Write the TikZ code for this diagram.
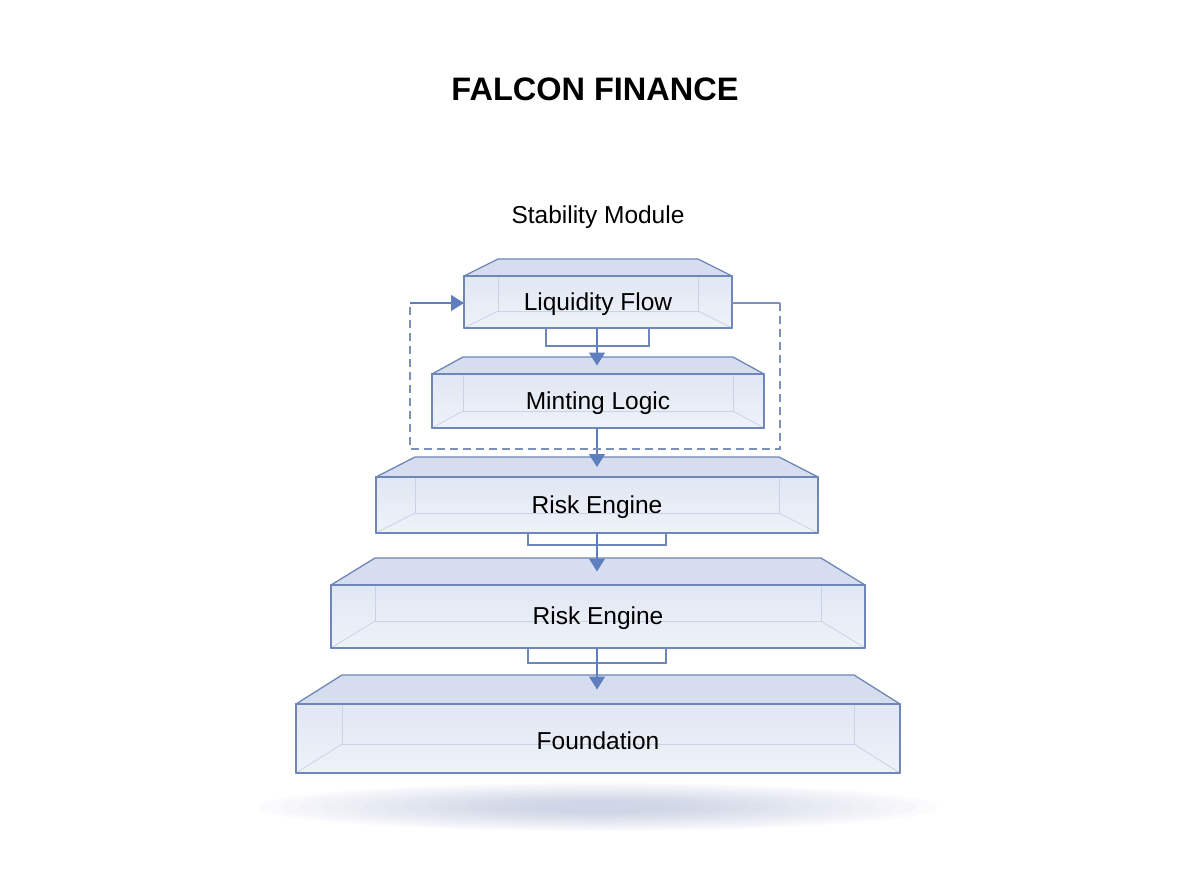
\documentclass[tikz,border=0pt]{standalone}
\usepackage{fontspec}
\setmainfont{Liberation Sans}
\usetikzlibrary{arrows.meta,positioning}

\definecolor{edgeblue}{HTML}{6F86B8}
\definecolor{arrowblue}{HTML}{5F7EBD}
\definecolor{topblue}{HTML}{D5DDEE}
\definecolor{frontlight}{HTML}{EEF2F9}
\definecolor{frontdark}{HTML}{E1E7F3}
\definecolor{innerblue}{HTML}{C9D3E8}
\definecolor{loopgray}{HTML}{7D90B8}
\definecolor{shadowblue}{HTML}{93A5CF}

\tikzset{
  boxedge/.style={draw=edgeblue, line width=1.3pt, line join=round},
  topface/.style={boxedge, fill=topblue},
  frontface/.style={boxedge, top color=frontdark, bottom color=frontlight},
  innerline/.style={draw=innerblue, line width=0.8pt},
  lbl/.style={font=\fontsize{24.5}{28}\selectfont, text=black},
  flow/.style={draw=arrowblue, line width=1.5pt, -{Triangle[width=16pt,length=13pt]}},
  bracket/.style={draw=edgeblue, line width=1.1pt},
  loopline/.style={draw=loopgray, line width=1.2pt},
}

% #1 name, #2 centre x, #3 top y, #4 top half width,
% #5 rim y, #6 front half width, #7 bottom y, #8 label
\newcommand{\glassbox}[8]{%
  % --- top face ---
  \path[topface] (#2-#4,#3) -- (#2+#4,#3) -- (#2+#6,#5) -- (#2-#6,#5) -- cycle;
  % --- front face ---
  \path[frontface] (#2-#6,#5) rectangle (#2+#6,#7);
  % --- back edges seen through the glass ---
  \draw[innerline] (#2-#4,#5) -- (#2-#4,#7-#5+#3) -- (#2+#4,#7-#5+#3) -- (#2+#4,#5);
  \draw[innerline] (#2-#4,#7-#5+#3) -- (#2-#6,#7);
  \draw[innerline] (#2+#4,#7-#5+#3) -- (#2+#6,#7);
  \draw[boxedge] (#2-#6,#5) rectangle (#2+#6,#7);
  % --- label and anchors ---
  \node[lbl] (#1) at (#2,{(#5+#7)/2+2}) {#8};
  \coordinate (#1-in) at (597,{(#3+#5)/2});
  \coordinate (#1-out) at (597,#7);
  \coordinate (#1-w) at (#2-#6,303);
  \coordinate (#1-e) at (#2+#6,303);
}

\begin{document}
\begin{tikzpicture}[x=1pt, y=-1pt]
  \fill[white] (0,0) rectangle (1195,896);
  \useasboundingbox (0,0) rectangle (1195,896);

  % --- headings ---
  \node[font=\fontsize{32.5}{38}\selectfont\bfseries] (title) at (595,89) {FALCON FINANCE};
  \node[lbl] (module) at (598,217) {Stability Module};

  % --- soft shadow under the stack ---
  \foreach \k in {0,...,13} {
    \fill[shadowblue, opacity=0.035] (598,807) ellipse ({340-\k*21} and {24-\k*1.4});
  }

  % --- layers, top to bottom ---
  \glassbox{liq}{598}{259}{100}{276}{134}{328}{Liquidity Flow}
  \glassbox{mint}{598}{357}{135}{374}{166}{428}{Minting Logic}
  \glassbox{risk}{597}{457}{182}{477}{221}{533}{Risk Engine}
  \glassbox{riskb}{598}{558}{223}{585}{267}{648}{Risk Engine}
  \glassbox{found}{598}{675}{256}{704}{302}{773}{Foundation}

  % --- brackets under the layers ---
  \draw[bracket] (546,328) |- (649,346) -- (649,328);
  \draw[bracket] (528,533) |- (666,545) -- (666,533);
  \draw[bracket] (528,648) |- (666,663) -- (666,648);

  % --- downward flow ---
  \draw[flow] (liq-out) -- (mint-in);
  \draw[flow] (mint-out) -- (risk-in);
  \draw[flow] (risk-out) -- (riskb-in);
  \draw[flow] (riskb-out) -- (found-in);

  % --- feedback loop ---
  \coordinate (loop-ne) at (780,303);
  \coordinate (loop-se) at (780,449);
  \coordinate (loop-sw) at (410,449);
  \coordinate (loop-nw) at (410,303);
  \draw[loopline] (liq-e) -- (loop-ne);
  \draw[loopline, dash pattern=on 8pt off 5pt] (loop-ne) -- (loop-se) -- (loop-sw) -- (loop-nw);
  \draw[loopline, -{Triangle[width=16pt,length=13pt]}, draw=arrowblue, fill=arrowblue] (loop-nw) -- (liq-w);
\end{tikzpicture}
\end{document}
